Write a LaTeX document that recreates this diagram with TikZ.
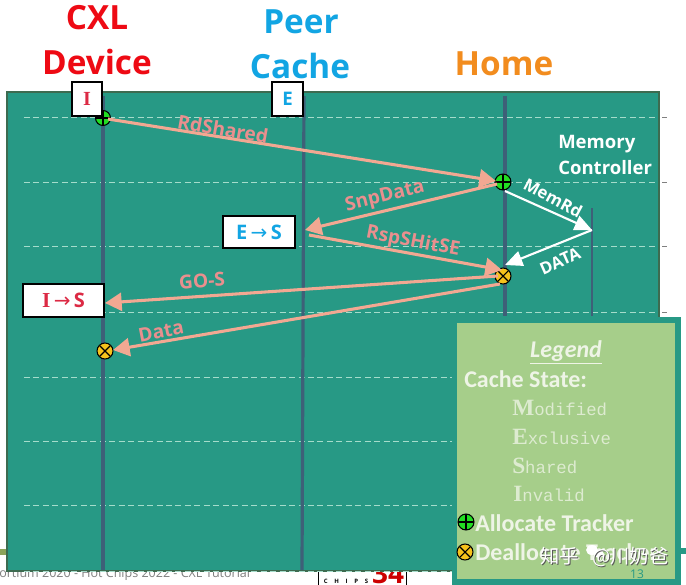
\documentclass[tikz,border=0pt]{standalone}
\usepackage{fontspec}
\usetikzlibrary{arrows.meta}
\setmainfont{Open Sans}
\newfontfamily\legfont{Carlito}
\newfontfamily\monofont{Liberation Mono}
\newfontfamily\serfont{Liberation Serif}
\newfontfamily\cjkfont{Noto Sans CJK SC}
\newfontfamily\arrowfont{DejaVu Sans}
\definecolor{panel}{HTML}{279985}
\definecolor{panelb}{HTML}{3D6B50}
\definecolor{life}{HTML}{3E6078}
\definecolor{dashc}{HTML}{A5DCCB}
\definecolor{salmon}{HTML}{F2A892}
\definecolor{lab}{HTML}{E98F8E}
\definecolor{cxlred}{HTML}{EE0A14}
\definecolor{cxlblue}{HTML}{12A5E3}
\definecolor{homeor}{HTML}{F28C1E}
\definecolor{statered}{HTML}{DC2A44}
\definecolor{legbg}{HTML}{A6CE8A}
\definecolor{legtx}{HTML}{EEF4E6}
\definecolor{mesi}{HTML}{DDEBD0}
\definecolor{alloc}{HTML}{22DD22}
\definecolor{dealloc}{HTML}{F6C21C}
\definecolor{strip}{HTML}{8BA45A}
\tikzset{
  x=0.75pt,y=-0.75pt,
  title/.style={font=\fontsize{25}{28}\selectfont\bfseries,inner sep=0pt},
  lifeline/.style={draw=life,line width=2.4pt},
  timeline/.style={draw=dashc,line width=0.65pt,dash pattern=on 4.5pt off 2.6pt},
  statebox/.style={draw=black,fill=white,line width=1.3pt,inner sep=0pt,minimum height=#1*0.75pt},
  msg/.style={draw=salmon,line width=2.3pt,-{Triangle[length=12.5pt,width=13.5pt]}},
  wmsg/.style={draw=white,line width=1.6pt,-{Triangle[length=13pt,width=11.5pt]}},
  msglab/.style={text=lab,font=\fontsize{14.4}{16}\selectfont\bfseries,inner sep=0pt},
  wlab/.style={text=white,font=\fontsize{12.5}{14}\selectfont\bfseries,inner sep=0pt},
  mark circle/.style={circle,draw=black,line width=0.8pt,minimum size=#1*0.75pt,inner sep=0pt},
  legtext/.style={text=legtx,inner sep=0pt,anchor=west,font=\legfont\fontsize{18}{20}\selectfont\bfseries},
  mesitx/.style={text=mesi,inner sep=0pt,anchor=west,font=\monofont\fontsize{13}{15}\selectfont},
}
\newcommand{\plusmark}[2]{\draw[black,line width=0.8pt] ([xshift=-#2pt]#1.center) -- ([xshift=#2pt]#1.center) ([yshift=-#2pt]#1.center) -- ([yshift=#2pt]#1.center);}
\newcommand{\crossmark}[2]{\draw[black,line width=0.8pt] ([shift={(-#2pt,-#2pt)}]#1.center) -- ([shift={(#2pt,#2pt)}]#1.center) ([shift={(-#2pt,#2pt)}]#1.center) -- ([shift={(#2pt,-#2pt)}]#1.center);}
\newcommand{\mesiline}[2]{{\serfont\fontsize{17.5}{19}\selectfont\bfseries #1}#2}
\newcommand{\arr}{{\arrowfont\mdseries\fontsize{15}{16}\selectfont →}}
\begin{document}
\begin{tikzpicture}
\useasboundingbox (0,0) rectangle (686,585);
\fill[white] (0,0) rectangle (686,585);
% slide remnants beneath the panel
\fill[strip] (0,549) rectangle (8,555);
\node[anchor=west,inner sep=0pt,text=gray,font=\fontsize{9.4}{11}\selectfont] (foot) at (-1,574) {ortium 2020 - Hot Chips 2022 - CXL Tutorial};
\draw[black,line width=0.7pt] (318,570) -- (318,585) (406,570) -- (406,585);
\node[inner sep=0pt,font=\fontsize{4.5}{6}\selectfont\bfseries] (chips) at (346,581) {C\hspace{5pt}H\hspace{5pt}I\hspace{5pt}P\hspace{5pt}S};
\node[inner sep=0pt,text=red!80!black,font=\fontsize{21}{24}\selectfont\bfseries,anchor=base] (logo) at (388,583) {34};
% panel
\fill[panel,draw=panelb,line width=1.5pt] (7,92) rectangle (659,571);
\foreach \ya in {117,182,246,312,377,441,505,571}{
  \draw[timeline] (24,\ya) -- (658,\ya);
  \draw[gray,line width=0.5pt] (662,\ya) -- (667,\ya);
}
% lifelines
\coordinate (devT) at (103,96); \coordinate (devB) at (103,570);
\coordinate (peerT) at (304,96); \coordinate (peerB) at (302,570);
\coordinate (homeT) at (505,96); \coordinate (homeB) at (505,316);
\coordinate (memT) at (592,208); \coordinate (memB) at (592,316);
\draw[lifeline] (devT) -- (devB);
\draw[lifeline] (peerT) -- (peerB);
\draw[lifeline] (homeT) -- (homeB);
\draw[draw=life,line width=1.6pt] (memT) -- (memB);
% titles
\node[title,text=cxlred] (t1) at (97,18) {CXL};
\node[title,text=cxlred] (t2) at (97,62) {Device};
\node[title,text=cxlblue] (t3) at (301,22) {Peer};
\node[title,text=cxlblue] (t4) at (300,66) {Cache};
\node[title,text=homeor] (t5) at (504,64) {Home};
% markers
\node[mark circle=15,fill=alloc] (start) at (103,118) {};
\plusmark{start}{5.5}
\node[mark circle=16,fill=alloc] (allocm) at (503,182) {};
\plusmark{allocm}{6}
\node[mark circle=16,fill=dealloc] (deallocm) at (503,276) {};
\crossmark{deallocm}{4}
\node[mark circle=16,fill=dealloc] (datam) at (105,351) {};
\crossmark{datam}{4}
% state boxes
\node[statebox=34,minimum width=22.5pt,text=statered,font=\serfont\fontsize{15}{17}\selectfont\bfseries] (stI) at (87,99) {I};
\node[statebox=34,minimum width=23pt,text=cxlblue,font=\fontsize{14}{16}\selectfont\bfseries] (stE) at (287.5,99) {E};
\node[statebox=32,minimum width=54pt,text=cxlblue,font=\fontsize{15}{17}\selectfont\bfseries] (stES) at (259,232) {E\,\arr\,S};
\node[statebox=33,minimum width=61pt,text=statered,font=\fontsize{15}{17}\selectfont\bfseries] (stIS) at (63.5,300.5) {{\serfont\fontsize{16}{17}\selectfont I}\,\arr\,S};
% connector anchors
\coordinate (a1s) at (108,119); \coordinate (a1e) at (496,181);
\coordinate (a2s) at (497,184); \coordinate (a2e) at (305,230);
\coordinate (a3s) at (309,235); \coordinate (a3e) at (502,270);
\coordinate (a4s) at (498,276); \coordinate (a4e) at (105,303);
\coordinate (a5s) at (500,284); \coordinate (a5e) at (113,350);
\coordinate (m1s) at (505,191); \coordinate (m1e) at (592,230);
\coordinate (m2e) at (505,265);
\draw[msg] (a1s) -- (a1e);
\draw[msg] (a2s) -- (a2e);
\draw[msg] (a3s) -- (a3e);
\draw[msg] (a4s) -- (a4e);
\draw[msg] (a5s) -- (a5e);
\draw[wmsg] (m1s) -- (m1e);
\draw[wmsg] (m1e) -- (m2e);
% message labels
\node[msglab,rotate=-10] (l1) at (223,129) {RdShared};
\node[msglab,rotate=14] (l2) at (385,197) {SnpData};
\node[msglab,rotate=-11] (l3) at (413,242) {RspSHitSE};
\node[msglab,rotate=5] (l4) at (202,281) {GO-S};
\node[msglab,rotate=11] (l5) at (161,331) {Data};
\node[wlab,rotate=-28] (l6) at (553,198) {MemRd};
\node[wlab,rotate=24] (l7) at (560,261) {DATA};
\node[wlab,anchor=west,font=\fontsize{13.9}{15}\selectfont\bfseries] (mc1) at (558,144) {Memory};
\node[wlab,anchor=west,font=\fontsize{13.9}{15}\selectfont\bfseries] (mc2) at (558,168) {Controller};
% legend
\fill[panel] (452,317) rectangle (681,585);
\fill[white] (440,572) rectangle (452,585);
\fill[panel] (681,548) rectangle (686,554);
\fill[legbg] (457,323) rectangle (675,579);
\node[text=legtx,inner sep=0pt,font=\legfont\fontsize{18}{20}\selectfont\bfseries\itshape] (lg) at (566,352) {\underline{Legend}};
\node[legtext] (cs) at (464,379) {Cache State:};
\node[mesitx] (mM) at (512,408) {\mesiline{M}{odified}};
\node[mesitx] (mE) at (512,437) {\mesiline{E}{xclusive}};
\node[mesitx] (mS) at (512,466) {\mesiline{S}{hared}};
\node[mesitx] (mI) at (513,494) {\mesiline{I}{nvalid}};
\node[mark circle=16,fill=alloc] (lga) at (466,522) {};
\plusmark{lga}{6}
\node[mark circle=16,fill=dealloc] (lgd) at (465,552) {};
\crossmark{lgd}{4}
\node[legtext] (at) at (475,523) {Allocate Tracker};
\node[legtext] (dt) at (475,552) {Deallocate Tracker};
\node[inner sep=0pt,text=panel,font=\fontsize{9}{10}\selectfont] (pg) at (637,574) {13};
% watermark
\fill[white] (592,550) ellipse (6 and 5);
\fill[white] (599,554) ellipse (5 and 4);
\node[inner sep=0pt,text=gray!70!black,font=\cjkfont\fontsize{14.5}{16}\selectfont] (wm2) at (605.2,557.7) {知乎\hspace{10pt}@川奶爸};
\node[inner sep=0pt,text=white,font=\cjkfont\fontsize{14.5}{16}\selectfont] (wm) at (604.5,557) {知乎\hspace{10pt}@川奶爸};
\end{tikzpicture}
\end{document}
